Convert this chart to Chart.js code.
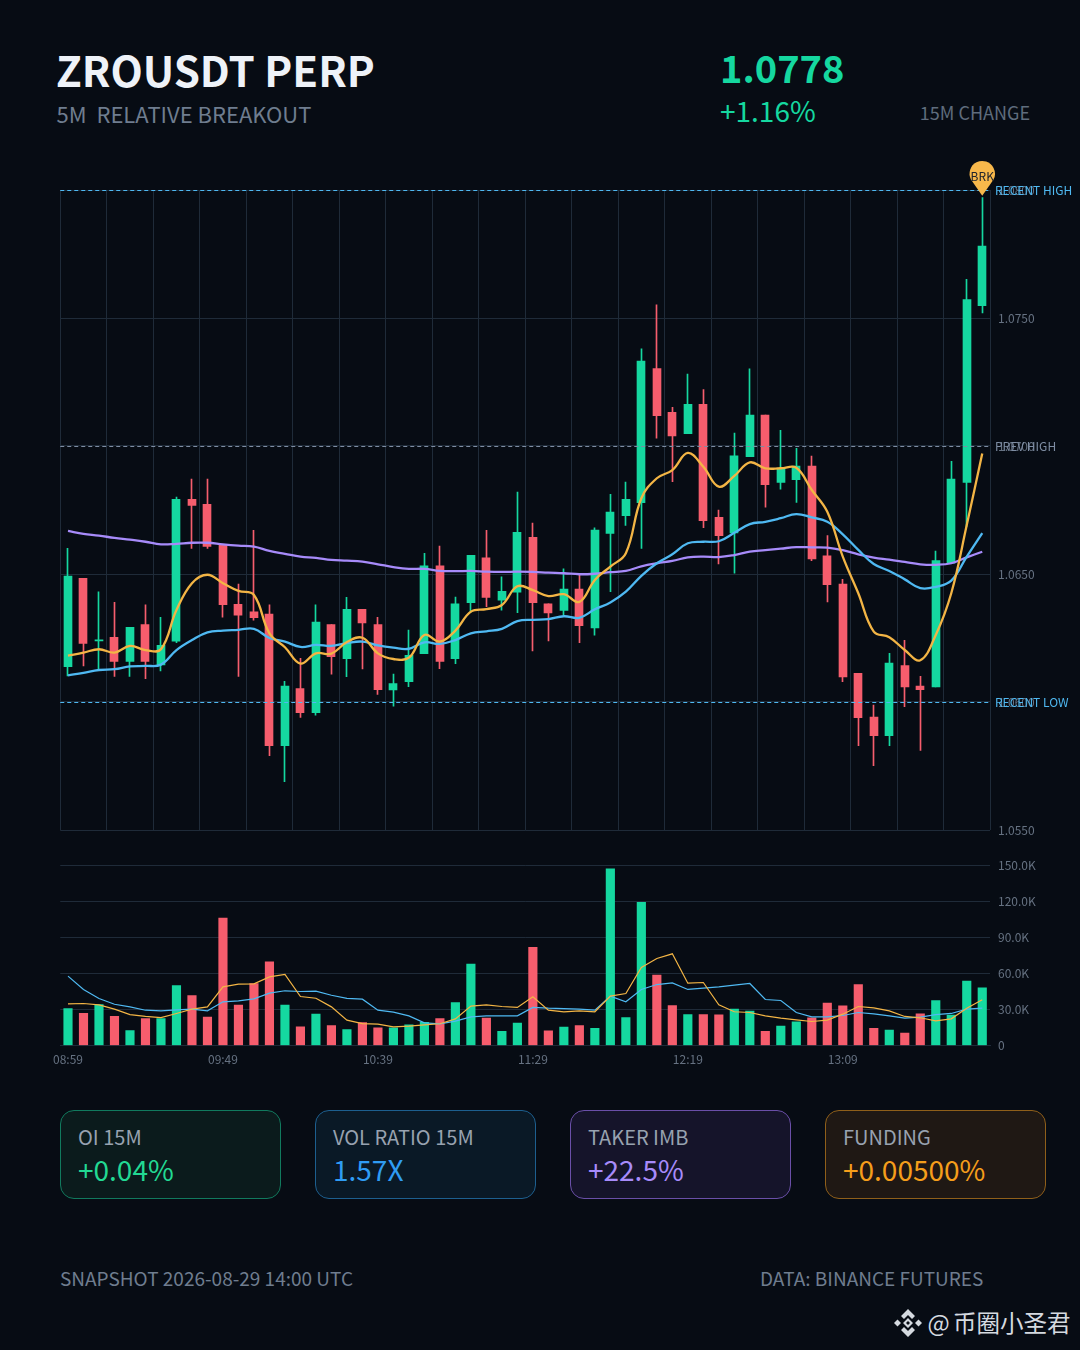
<!DOCTYPE html>
<html><head><meta charset="utf-8">
<script src="https://cdn.jsdelivr.net/npm/chart.js@4"></script>
<style>
html,body{margin:0;padding:0;background:#070c14;}
body{width:1080px;height:1350px;position:relative;overflow:hidden;font-family:"Noto Sans CJK SC","Noto Sans",sans-serif;}
.t{position:absolute;white-space:pre;line-height:1;}
canvas{position:absolute;left:0;}
.card{position:absolute;top:1110px;width:219px;height:87px;border-radius:14px;border:1px solid;}
.card .l{position:absolute;left:17px;top:16px;font-size:20px;line-height:1;color:#98a2b0;white-space:pre;}
.card .v{position:absolute;left:17px;top:44px;font-size:28px;line-height:1;white-space:pre;}
</style></head><body>
<div class="t" style="left:56px;top:48px;font-size:42px;font-weight:700;color:#eef2f8;">ZROUSDT PERP</div>
<div class="t" style="left:56.5px;top:102px;font-size:22px;color:#6f7d8f;">5M  RELATIVE BREAKOUT</div>
<div class="t" style="left:720px;top:48px;font-size:38px;font-weight:700;color:#15d8a0;">1.0778</div>
<div class="t" style="left:720px;top:96px;font-size:28px;color:#15d8a0;">+1.16%</div>
<div class="t" style="right:50px;top:103px;font-size:18px;color:#5f6c7d;">15M CHANGE</div>
<canvas id="price" width="1080" height="700" style="top:150px;width:1080px;height:700px"></canvas>
<canvas id="vol" width="1080" height="230" style="top:850px;width:1080px;height:230px"></canvas>
<div class="card" style="left:60px;background:#0b1b1c;border-color:#117a5e;"><div class="l">OI 15M</div><div class="v" style="color:#22d993;">+0.04%</div></div>
<div class="card" style="left:315px;background:#0a1926;border-color:#1d5f8f;"><div class="l">VOL RATIO 15M</div><div class="v" style="color:#2f9cf4;">1.57X</div></div>
<div class="card" style="left:570px;background:#15142a;border-color:#6a4fa8;"><div class="l">TAKER IMB</div><div class="v" style="color:#a78bfa;">+22.5%</div></div>
<div class="card" style="left:825px;background:#1f1814;border-color:#8f5f1a;"><div class="l">FUNDING</div><div class="v" style="color:#f59e1b;">+0.00500%</div></div>
<div class="t" style="left:60px;top:1268px;font-size:19px;color:#6f7d8f;">SNAPSHOT 2026-08-29 14:00 UTC</div>
<div class="t" style="left:760px;top:1268px;font-size:19px;color:#6f7d8f;">DATA: BINANCE FUTURES</div>
<svg style="position:absolute;left:894px;top:1309px" width="28" height="28" viewBox="0 0 28 28" fill="#d5dae0">
<path d="M14 0 L21 7 L18 10 L14 6 L10 10 L7 7 Z"/><path d="M14 28 L21 21 L18 18 L14 22 L10 18 L7 21 Z"/>
<path d="M3.5 10.5 L7 14 L3.5 17.5 L0 14 Z"/><path d="M24.5 10.5 L28 14 L24.5 17.5 L21 14 Z"/>
<path fill-rule="evenodd" d="M14 9 L19 14 L14 19 L9 14 Z M14 12 L12 14 L14 16 L16 14 Z"/></svg>
<div class="t" style="left:927.5px;top:1311px;font-size:23.5px;color:#d5dae0;">@</div>
<div class="t" style="left:953px;top:1311px;font-size:23.5px;color:#d5dae0;">币圈小圣君</div>
<script>
const categories=["08:59","09:04","09:09","09:14","09:19","09:24","09:29","09:34","09:39","09:44","09:49","09:54","09:59","10:04","10:09","10:14","10:19","10:24","10:29","10:34","10:39","10:44","10:49","10:54","10:59","11:04","11:09","11:14","11:19","11:24","11:29","11:34","11:39","11:44","11:49","11:54","11:59","12:04","12:09","12:14","12:19","12:24","12:29","12:34","12:39","12:44","12:49","12:54","12:59","13:04","13:09","13:14","13:19","13:24","13:29","13:34","13:39","13:44","13:49","13:54"];
const opens=[1.06138,1.06483,1.06239,1.06253,1.06159,1.06302,1.06145,1.06238,1.06792,1.06772,1.06614,1.06382,1.06352,1.06343,1.05829,1.06052,1.05958,1.06302,1.06169,1.06362,1.06302,1.06047,1.06079,1.06189,1.06532,1.06169,1.06388,1.06563,1.06398,1.06429,1.06643,1.06383,1.06358,1.06441,1.06289,1.06659,1.06728,1.06779,1.07302,1.07132,1.07048,1.07163,1.06721,1.06660,1.06958,1.07121,1.06858,1.06868,1.06922,1.06571,1.06461,1.06112,1.05941,1.05868,1.06142,1.06062,1.06059,1.06542,1.06858,1.07548];
const closes=[1.06492,1.06229,1.06243,1.06159,1.06292,1.06159,1.06221,1.06792,1.06768,1.06608,1.06380,1.06339,1.06329,1.05829,1.06062,1.05958,1.06312,1.06177,1.06362,1.06309,1.06048,1.06072,1.06182,1.06532,1.06159,1.06383,1.06573,1.06409,1.06432,1.06663,1.06388,1.06348,1.06441,1.06298,1.06672,1.06742,1.06792,1.07332,1.07118,1.07039,1.07163,1.06708,1.06650,1.06962,1.07121,1.06849,1.06914,1.06922,1.06559,1.06458,1.06098,1.05939,1.05868,1.06152,1.06059,1.06048,1.06552,1.06871,1.07572,1.07781];
const highs=[1.06600,1.06483,1.06430,1.06389,1.06292,1.06380,1.06331,1.06800,1.06871,1.06871,1.06614,1.06461,1.06671,1.06380,1.06081,1.06171,1.06380,1.06302,1.06409,1.06362,1.06331,1.06109,1.06281,1.06581,1.06609,1.06410,1.06573,1.06671,1.06489,1.06820,1.06699,1.06383,1.06520,1.06496,1.06680,1.06811,1.06859,1.07380,1.07551,1.07151,1.07281,1.07220,1.06750,1.07050,1.07301,1.07121,1.07061,1.06991,1.06961,1.06650,1.06479,1.06112,1.05988,1.06190,1.06241,1.06100,1.06590,1.06940,1.07651,1.07970];
const lows=[1.06102,1.06141,1.06129,1.06100,1.06100,1.06091,1.06121,1.06232,1.06600,1.06600,1.06331,1.06100,1.06320,1.05790,1.05689,1.05940,1.05949,1.06109,1.06099,1.06129,1.06030,1.05984,1.06060,1.06189,1.06130,1.06150,1.06349,1.06372,1.06359,1.06349,1.06200,1.06239,1.06340,1.06232,1.06261,1.06431,1.06690,1.06600,1.07031,1.06861,1.07048,1.06681,1.06539,1.06503,1.06958,1.06761,1.06831,1.06780,1.06552,1.06391,1.06079,1.05829,1.05751,1.05829,1.05982,1.05811,1.06059,1.06542,1.06685,1.07520];
const emaFast=[1.06181,1.06193,1.06206,1.06193,1.06219,1.06203,1.06206,1.06359,1.06464,1.06497,1.06464,1.06434,1.06418,1.06268,1.06214,1.06150,1.06190,1.06189,1.06234,1.06251,1.06190,1.06168,1.06173,1.06262,1.06236,1.06279,1.06353,1.06363,1.06379,1.06452,1.06437,1.06414,1.06421,1.06391,1.06477,1.06529,1.06581,1.06796,1.06874,1.06906,1.06973,1.06919,1.06841,1.06883,1.06936,1.06913,1.06913,1.06915,1.06828,1.06743,1.06568,1.06425,1.06275,1.06253,1.06203,1.06163,1.06262,1.06425,1.06691,1.06971];
const emaMid=[1.06104,1.06114,1.06125,1.06128,1.06139,1.06141,1.06146,1.06203,1.06242,1.06272,1.06279,1.06282,1.06286,1.06250,1.06236,1.06215,1.06223,1.06219,1.06230,1.06236,1.06221,1.06212,1.06208,1.06233,1.06227,1.06242,1.06268,1.06276,1.06286,1.06316,1.06321,1.06324,1.06335,1.06329,1.06362,1.06389,1.06431,1.06493,1.06542,1.06577,1.06620,1.06626,1.06628,1.06661,1.06695,1.06704,1.06718,1.06734,1.06721,1.06704,1.06655,1.06594,1.06539,1.06512,1.06479,1.06445,1.06450,1.06474,1.06568,1.06660];
const emaSlow=[1.06668,1.06657,1.06650,1.06641,1.06634,1.06626,1.06616,1.06618,1.06622,1.06622,1.06616,1.06611,1.06607,1.06590,1.06579,1.06568,1.06563,1.06555,1.06552,1.06548,1.06538,1.06527,1.06520,1.06520,1.06512,1.06511,1.06512,1.06509,1.06508,1.06509,1.06508,1.06505,1.06503,1.06499,1.06501,1.06507,1.06512,1.06530,1.06542,1.06551,1.06565,1.06568,1.06566,1.06574,1.06587,1.06593,1.06599,1.06605,1.06604,1.06603,1.06593,1.06577,1.06564,1.06556,1.06547,1.06538,1.06536,1.06542,1.06565,1.06587];
const volume=[30800,26900,34200,24400,12500,22500,22500,50000,41700,23600,106100,33600,51700,69700,33600,15600,26100,16700,13300,19200,14700,14700,17200,19400,22500,35800,67800,22800,11900,18600,81900,12200,15300,16700,14400,147200,23300,119400,58600,33300,25800,25800,25600,30300,28600,11900,16100,19700,23100,35300,33100,50800,14400,12800,10300,26400,37500,25300,53600,48100];
const volMaFast=[34700,35000,33900,30300,25800,24200,23300,26700,30300,32200,48900,51100,51400,57200,59200,40800,39400,32200,21100,18300,17800,15600,16100,17200,18100,22200,32800,33900,32500,31700,40600,29400,28100,28900,28100,41100,43300,65000,72500,76400,51900,52500,33900,28100,27500,24700,22800,21400,20000,21100,26100,32500,31400,28900,24200,23100,20600,22200,31100,38100];
const volMaSlow=[57800,46700,39200,34400,32200,29400,28900,29700,30300,28900,36400,37200,38900,43600,45600,45000,45300,41900,39200,38600,29400,27800,24700,18900,18100,20300,23900,24700,24700,24700,31700,31100,30800,30300,29400,41100,36400,46700,50800,52200,46700,47800,48900,50300,51700,38300,37500,27500,23900,23900,25000,27500,26400,24700,22800,23600,25800,26700,30300,31100];
const priceLevels=[{label:"RECENT HIGH",value:1.08,color:"#4fb9f2"},{label:"PREV HIGH",value:1.07,color:"#7e8da3"},{label:"RECENT LOW",value:1.06,color:"#4fb9f2"}];
const priceTicks={min:1.055,max:1.08,step:0.005};
const volTicks={min:0,max:150000,step:30000};

const GREEN="#15d8a0",RED="#f65d6d",GRID="#1f2b39",TICK="#667282",FONT='"Noto Sans CJK SC","Noto Sans",sans-serif';
const up=closes.map((c,i)=>c>=opens[i]);
const colors=up.map(u=>u?GREEN:RED);
Chart.defaults.animation=false;
Chart.defaults.font.family=FONT;

const crisp={id:"crisp",afterDatasetsUpdate(c){
  c.getDatasetMeta(0).data.forEach(el=>{el.x=Math.floor(el.x-.25)+.5;});
  c.getDatasetMeta(1).data.forEach(el=>{el.x=Math.round(el.x);});
}};
const overlay={id:"overlay",afterDatasetsDraw(c){
  const {ctx,chartArea:a,scales:s}=c;
  ctx.save();ctx.font="12px "+FONT;ctx.textBaseline="middle";
  priceLevels.forEach(l=>{const y=Math.round(s.y.getPixelForValue(l.value))+.5;
    ctx.strokeStyle=l.color;ctx.lineWidth=1;ctx.setLineDash([4,3]);
    ctx.beginPath();ctx.moveTo(a.left,y);ctx.lineTo(a.right,y);ctx.stroke();
    ctx.setLineDash([]);ctx.fillStyle=l.color;ctx.textAlign="left";ctx.fillText(l.label,995,y);});
  const i=closes.length-1,x=s.x.getPixelForValue(i),tip=s.y.getPixelForValue(highs[i])-2,r=12.7,cy=tip-22;
  ctx.fillStyle="#f7b84b";ctx.beginPath();ctx.arc(x,cy,r,Math.PI*0.85,Math.PI*0.15);ctx.lineTo(x,tip);ctx.closePath();ctx.fill();
  ctx.fillStyle="#20242c";ctx.textAlign="center";ctx.fillText("BRK",x,cy+2.3);
  ctx.restore();}};

const lineDs=(data,color,order,w,extra)=>Object.assign({type:"line",data,borderColor:color,borderWidth:w,pointRadius:0,order,fill:false},extra||{});

new Chart(document.getElementById("price"),{
  data:{labels:categories,datasets:[
    {type:"bar",data:lows.map((l,i)=>[l,highs[i]]),backgroundColor:colors,barThickness:1,grouped:false,order:6},
    {type:"bar",data:opens.map((o,i)=>[o,closes[i]]),backgroundColor:colors,borderWidth:0,barThickness:8,grouped:false,order:5},
    lineDs(emaSlow,"#a78bfa",3,2.3,{tension:.4}),
    lineDs(emaMid,"#4fb9f2",2,2.3,{tension:.4}),
    lineDs(emaFast,"#f3b545",1,2.3,{tension:.4})
  ]},
  options:{responsive:false,animation:false,
    layout:{padding:{left:60.25,top:40,bottom:20,right:0}},
    plugins:{legend:{display:false},tooltip:{enabled:false}},
    scales:{
      x:{type:"category",offset:true,display:false},
      xg:{type:"linear",position:"bottom",min:0,max:60,ticks:{display:false,stepSize:3},grid:{color:GRID,drawTicks:false},border:{display:false},afterFit(s){s.height=0;}},
      y:{type:"linear",position:"right",min:priceTicks.min,max:priceTicks.max,
        ticks:{stepSize:priceTicks.step,color:TICK,font:{size:12},padding:8,callback:v=>v.toFixed(4)},
        grid:{color:GRID,drawTicks:false},border:{display:false},afterFit(s){s.width=90;}}
    }},
  plugins:[crisp,overlay]
});

new Chart(document.getElementById("vol"),{
  data:{labels:categories,datasets:[
    {type:"bar",data:volume,backgroundColor:colors,borderWidth:0,barThickness:8.5,grouped:false,order:5},
    lineDs(volMaSlow,"#4fb9f2",2,1.2),
    lineDs(volMaFast,"#f3b545",1,1.2)
  ]},
  options:{responsive:false,animation:false,
    layout:{padding:{left:60.25,top:15.5,bottom:0,right:0}},
    plugins:{legend:{display:false},tooltip:{enabled:false}},
    scales:{
      x:{type:"category",offset:true,grid:{display:false,drawTicks:false},border:{color:GRID},
        ticks:{color:TICK,font:{size:12},autoSkip:false,maxRotation:0,padding:7,callback(v,i){return i%10===0?categories[i]:"";}},
        afterFit(s){s.height=34.5;}},
      y:{type:"linear",position:"right",min:volTicks.min,max:volTicks.max,
        ticks:{stepSize:volTicks.step,color:TICK,font:{size:12},padding:8,callback:v=>v===0?"0":(v/1000).toFixed(1)+"K"},
        grid:{color:GRID,drawTicks:false},border:{display:false},afterFit(s){s.width=90;}}
    }}
});
</script>
</body></html>
